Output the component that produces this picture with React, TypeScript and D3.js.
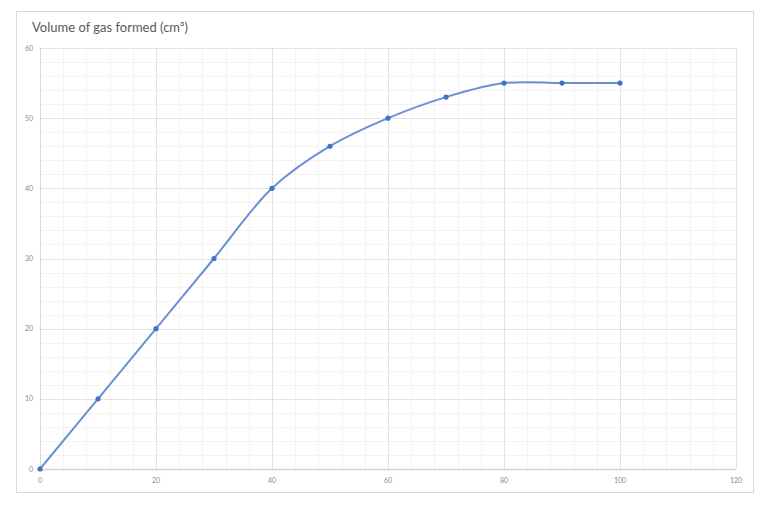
import { useEffect, useRef } from 'react'
import * as d3 from 'd3'

// Reaction time (x) vs volume of gas formed (y)
const TIMES = [0, 10, 20, 30, 40, 50, 60, 70, 80, 90, 100]
const VOLUMES = [0, 10, 20, 30, 40, 46, 50, 53, 55, 55, 55]
const X_TICKS = [0, 20, 40, 60, 80, 100, 120]
const Y_TICKS = [0, 10, 20, 30, 40, 50, 60]
const TITLE = 'Volume of gas formed (cm³)'

const FONT = 'Lato, "Open Sans", sans-serif'

export default function App() {
  const svgRef = useRef<SVGSVGElement>(null)

  useEffect(() => {
    const svg = svgRef.current
    if (!svg) return

    const width = 768
    const height = 509
    const plot = { left: 40, right: 736, top: 48, bottom: 469 }

    const root = d3.select(svg)
    root.selectAll('*').remove()
    root.attr('width', width).attr('height', height)

    const xScale = d3.scaleLinear().domain([0, 120]).range([plot.left, plot.right])
    const yScale = d3.scaleLinear().domain([0, 60]).range([plot.bottom, plot.top])

    // chart frame
    root.append('rect')
      .attr('x', 16.5).attr('y', 11.5)
      .attr('width', 737).attr('height', 481)
      .attr('fill', '#fff')
      .attr('stroke', '#d9d9d9')

    const g = root.append('g')

    // minor grid
    const xMinor = d3.range(0, 121, 4).filter(v => v % 20 !== 0)
    const yMinor = d3.range(0, 61, 2).filter(v => v % 10 !== 0)
    g.selectAll('.xminor').data(xMinor).join('line')
      .attr('x1', d => Math.round(xScale(d)) + 0.5).attr('x2', d => Math.round(xScale(d)) + 0.5)
      .attr('y1', plot.top).attr('y2', plot.bottom)
      .attr('stroke', '#f3f3f3')
    g.selectAll('.yminor').data(yMinor).join('line')
      .attr('y1', d => Math.round(yScale(d)) + 0.5).attr('y2', d => Math.round(yScale(d)) + 0.5)
      .attr('x1', plot.left).attr('x2', plot.right)
      .attr('stroke', '#f3f3f3')

    // major grid
    g.selectAll('.xmajor').data(X_TICKS).join('line')
      .attr('x1', d => Math.round(xScale(d)) + 0.5).attr('x2', d => Math.round(xScale(d)) + 0.5)
      .attr('y1', plot.top).attr('y2', plot.bottom)
      .attr('stroke', '#e3e3e3')
    g.selectAll('.ymajor').data(Y_TICKS).join('line')
      .attr('y1', d => Math.round(yScale(d)) + 0.5).attr('y2', d => Math.round(yScale(d)) + 0.5)
      .attr('x1', plot.left).attr('x2', plot.right)
      .attr('stroke', '#e3e3e3')

    // axis lines
    g.append('line')
      .attr('x1', plot.left).attr('x2', plot.right)
      .attr('y1', plot.bottom + 0.5).attr('y2', plot.bottom + 0.5)
      .attr('stroke', '#d4d4d4').attr('stroke-width', 1.5)
    g.append('line')
      .attr('x1', plot.left + 0.5).attr('x2', plot.left + 0.5)
      .attr('y1', plot.top).attr('y2', plot.bottom)
      .attr('stroke', '#d9d9d9')

    // tick labels
    g.selectAll('.xlab').data(X_TICKS).join('text')
      .attr('x', d => xScale(d)).attr('y', plot.bottom + 14)
      .attr('text-anchor', 'middle')
      .attr('font-family', FONT).attr('font-size', 7)
      .attr('fill', '#8c8c8c')
      .text(d => d)
    g.selectAll('.ylab').data(Y_TICKS).join('text')
      .attr('x', plot.left - 7).attr('y', d => yScale(d) + 2.5)
      .attr('text-anchor', 'end')
      .attr('font-family', FONT).attr('font-size', 7)
      .attr('fill', '#8c8c8c')
      .text(d => d)

    // title
    root.append('text')
      .attr('x', 32).attr('y', 32)
      .attr('font-family', FONT).attr('font-size', 13)
      .attr('fill', '#595959')
      .text(TITLE)

    // smoothed series
    const pts = TIMES.map((t, i) => [t, VOLUMES[i]] as [number, number])
    const line = d3.line<[number, number]>()
      .x(d => xScale(d[0]))
      .y(d => yScale(d[1]))
      .curve(d3.curveCatmullRom.alpha(0.5))

    g.append('path')
      .attr('d', line(pts) ?? '')
      .attr('fill', 'none')
      .attr('stroke', '#6a8fd6')
      .attr('stroke-width', 2)
      .attr('stroke-linecap', 'round')

    g.selectAll('.pt').data(pts).join('circle')
      .attr('cx', d => xScale(d[0]))
      .attr('cy', d => yScale(d[1]))
      .attr('r', 2.6)
      .attr('fill', '#4472c4')
  }, [])

  return (
    <div style={{ position: 'absolute', left: 0, top: 0, background: '#fff' }}>
      <svg ref={svgRef} style={{ display: 'block' }} />
    </div>
  )
}
